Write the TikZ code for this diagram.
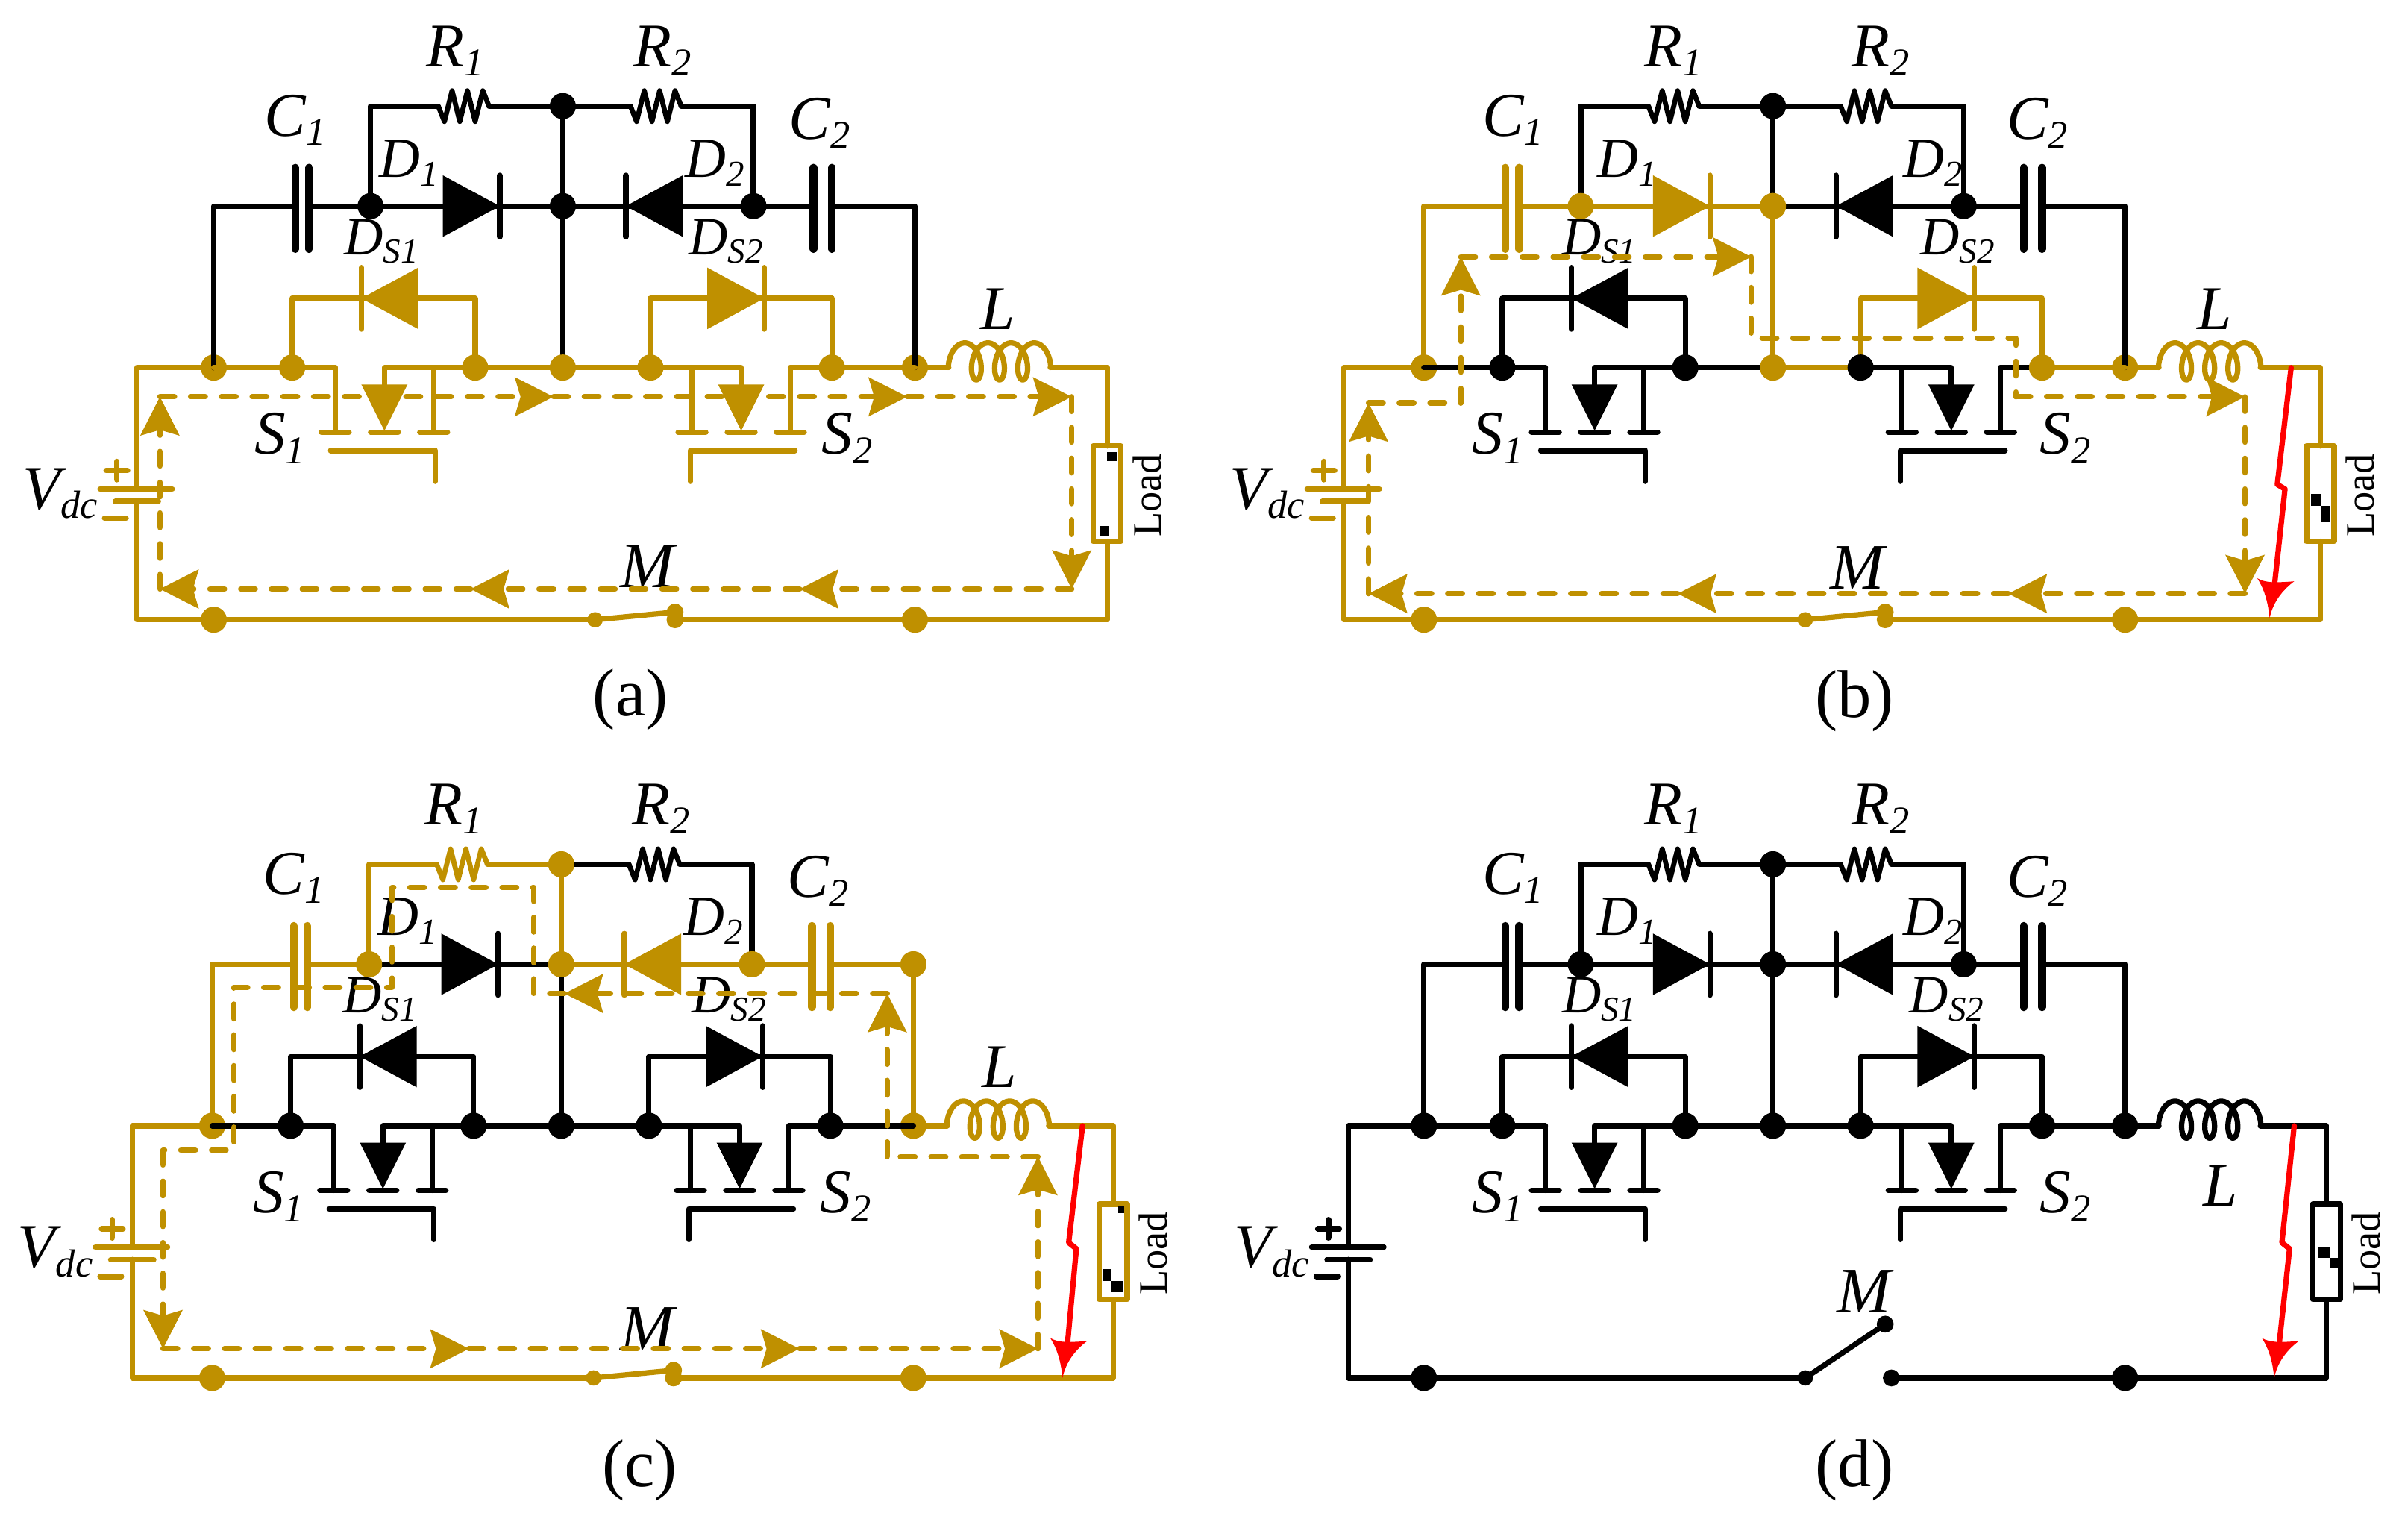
\documentclass[tikz,border=0pt]{standalone}
\usepackage{fontspec}
\setmainfont{Liberation Serif}
\usetikzlibrary{arrows.meta}
\definecolor{gilt}{RGB}{191,144,0}
\newcommand{\subs}[2][14.5]{\raisebox{-0.15em}{\fontsize{#1}{#1}\selectfont #2}}

\tikzset{
    wire/.style={line width=0.07cm, line cap=round, line join=round},
    plate/.style={line width=0.07cm, line cap=round},
    capplate/.style={line width=0.1cm, line cap=round},
    au/.style={color=gilt}, ink/.style={color=black},
    partOuter/.style=ink, partQa/.style=ink, partQm/.style=ink, partQb/.style=ink,
    partCa/.style=ink, partDa/.style=ink, partJm/.style=ink, partUp/.style=ink,
    lbl/.style={inner sep=0pt, font=\fontsize{23}{25}\selectfont\itshape},
    mlbl/.style={inner sep=0pt, font=\fontsize{24}{25}\selectfont\itshape},
    d_label/.style={inner sep=0pt, font=\fontsize{21}{22}\selectfont\itshape},
    dlbl/.style={inner sep=0pt, font=\fontsize{20}{22}\selectfont\itshape},
    cap_label/.style={inner sep=0pt, font=\fontsize{25}{27}\selectfont},
    load_label/.style={inner sep=0pt, rotate=90, font=\fontsize{15}{16}\selectfont},
    flowline/.style={au, line width=0.07cm, line cap=round, line join=round, dash pattern=on 0.19cm off 0.21cm},
    flow/.style={flowline, -{Stealth[length=0.5cm, width=0.5cm, inset=0.07cm]}},
    fault/.style={red, line width=0.07cm, line cap=round, line join=round},
    faulthead/.pic={
        \fill[red] (0,0) .. controls (-1,-10) and (-3,-18) .. (-8,-26)
            .. controls (-3,-23) and (3,-23) .. (16,-24)
            .. controls (8,-18) and (2,-10) .. (0,0) -- cycle;
    },
    diode/.pic={
        \fill (0,0) -- (-37,-20) -- (-37,20) -- cycle;
        \draw[plate] (0,-20) -- (0,20);
    },
    resistor/.pic={
        \draw[line width=0.065cm, line join=round] (0,0) -- (4,10) -- (9,-10) -- (14,10) -- (19,-10) -- (24,10) -- (29,-10) -- (33,0);
    },
    mosfet/.pic={
        \draw[wire] (-32,0) -- (-32,42);
        \draw[wire] (0,11) -- (0,0) -- (32,0);
        \draw[wire] (32,0) -- (32,42);
        \fill (-15,11) -- (15,11) -- (0,41) -- cycle;
        \draw[plate] (-41,42) -- (-23,42);
        \draw[plate] (-9,42) -- (9,42);
        \draw[plate] (23,42) -- (41,42);
        \draw[wire] (-35,54) -- (33,54) -- (33,74);
    }
}

% #1 left rail, #2 right rail, #3 label DS2, #4 blade end, #5 contact, #6 label shift
\newcommand{\cellbody}[6]{
    \coordinate (ja) at (139,239); \coordinate (jb) at (190,239);
    \coordinate (jc) at (309,239); \coordinate (jd) at (366,239);
    \coordinate (je) at (423,239); \coordinate (jf) at (541,239);
    \coordinate (jg) at (595,239);
    \coordinate (ma) at (139,134); \coordinate (mb) at (241,134);
    \coordinate (mc) at (366,134); \coordinate (md) at (490,134);
    \coordinate (me) at (595,134);
    \coordinate (ta) at (241,69); \coordinate (tb) at (366,69); \coordinate (tc) at (490,69);
    \coordinate (ba) at (139,403); \coordinate (bb) at (595,403);
    \coordinate (sa) at (387,403); \coordinate (sb) at (#5,403); \coordinate (sc) at (439,#4);
    % anel externo
    \draw[wire,partOuter] (ja) -- (#1,239) -- (#1,318);
    \draw[wire,partOuter] (#1,326) -- (#1,403) -- (sa);
    \draw[wire,partOuter] (sb) -- (#2,403) -- (#2,352);
    \draw[wire,partOuter] (#2,290) -- (#2,239) -- (683,239);
    \draw[wire,partOuter] (jg) -- (617,239);
    \draw[wire,partOuter] plot[domain=-109:1189, samples=160, smooth, variable=\t]
        ({627.4+2.4*rad(\t)+6.5*sin(\t)}, {235-12*cos(\t)});
    \draw[wire,partOuter] (#2-9,290) rectangle (#2+9,352);
    \draw[plate,partOuter] (#1-24,318) -- (#1+23,318);
    \draw[plate,partOuter] (#1-14,326) -- (#1+14,326);
    \draw[plate,partOuter] (#1-20,306) -- (#1-6,306);
    \draw[plate,partOuter] (#1-13,300) -- (#1-13,312);
    \draw[plate,partOuter] (#1-21,337) -- (#1-7,337);
    \draw[wire,partOuter] (sa) -- (sc);
    \foreach \j/\r in {ja/8.5, jg/8.5, ba/8.5, bb/8.5, sa/5, sb/5.5, sc/5.5}
        \fill[partOuter] (\j) circle (\r);
    % linha do meio
    \draw[wire,partCa] (ja) -- (ma) -- (192,134);
    \draw[wire,partCa] (201,134) -- (mb);
    \draw[capplate,partCa] (192,109) -- (192,162);
    \draw[capplate,partCa] (201,109) -- (201,162);
    \draw[wire,partDa] (mb) -- (mc);
    \pic[partDa] at (325,134) {diode};
    \draw[wire,partDa] (mc) -- (jd);
    \draw[wire,partUp] (mc) -- (md) -- (529,134);
    \pic[partUp,xscale=-1] at (407,134) {diode};
    \draw[wire,partUp] (541,134) -- (me) -- (jg);
    \draw[capplate,partUp] (529,109) -- (529,162);
    \draw[capplate,partUp] (541,109) -- (541,162);
    % resistores
    \draw[wire,partUp] (mb) -- (ta) -- (285,69);
    \pic[partUp] at (285,69) {resistor};
    \draw[wire,partUp] (318,69) -- (tb) -- (mc);
    \draw[wire] (tb) -- (410,69);
    \pic at (410,69) {resistor};
    \draw[wire] (443,69) -- (tc) -- (md);
    % linha inferior e chaves
    \draw[wire,partQa] (ja) -- (jb) -- (218,239);
    \pic[partQa] at (250,239) {mosfet};
    \draw[wire,partQa] (282,239) -- (jd);
    \draw[wire,partQa] (jb) -- (190,194) -- (309,194) -- (jc);
    \pic[partQa,xscale=-1] at (235,194) {diode};
    \draw[wire,partQm] (jd) -- (je);
    \draw[wire,partQb] (je) -- (451,239);
    \pic[partQb,xscale=-1] at (482,239) {mosfet};
    \draw[wire,partQb] (514,239) -- (jf);
    \draw[wire,partQm] (jf) -- (jg);
    \draw[wire,partQm] (je) -- (423,194) -- (541,194) -- (jf);
    \pic[partQm] at (497,194) {diode};
    % pontos
    \foreach \j in {jb, jc} \fill[partQa] (\j) circle (8.5);
    \foreach \j in {jd, jf} \fill[partQm] (\j) circle (8.5);
    \fill[partQb] (je) circle (8.5);
    \fill[partCa] (mb) circle (8.5);
    \fill[partJm] (mc) circle (8.5);
    \foreach \j in {md, tb} \fill[partUp] (\j) circle (8.5);
    % textos
    \node[lbl] (nR1) at (296+#6,33) {R\subs{1}};
    \node[lbl] (nR2) at (431+#6,33) {R\subs{2}};
    \node[lbl] (nC1) at (192+#6,78) {C\subs{1}};
    \node[lbl] (nC2) at (533+#6,80) {C\subs{2}};
    \node[d_label] (nD1) at (266+#6,106) {D\subs[13.5]{1}};
    \node[d_label] (nD2) at (465+#6,106) {D\subs[13.5]{2}};
    \node[dlbl] (nDa) at (248+#6,157) {D\subs[13]{S1}};
    \node[dlbl] (nDb) at (#3,157) {D\subs[13]{S2}};
    \node[lbl] (nSa) at (182+#6,285) {S\subs{1}};
    \node[lbl] (nSb) at (551+#6,285) {S\subs{2}};
    \node[lbl] (nV) at (#1-50,321) {V\subs{dc}};
    \node[load_label] (nLoad) at (#2+26,322) {Load};
}

\begin{document}
\begin{tikzpicture}[x=0.02cm, y=-0.02cm]
    \useasboundingbox (0,0) rectangle (1566,989.2);

    % (a)
    \begin{scope}[name prefix=a-, partOuter/.style=au, partQa/.style=au, partQm/.style=au, partQb/.style=au]
        \cellbody{89}{720}{472}{398}{439}{0}
        \node[mlbl] (nM) at (421,368) {M};
        \node[lbl] (nL) at (649,201) {L};
        \node[cap_label] (nCap) at (410,455) {(a)};
        \fill (720,294) rectangle (726,300);
        \fill (715,342) rectangle (721,349);
        \coordinate (f1) at (104,258); \coordinate (f2) at (360,258);
        \coordinate (f3) at (590,258); \coordinate (f4) at (697,258);
        \coordinate (f5) at (697,383); \coordinate (f6) at (520,383);
        \coordinate (f7) at (306,383); \coordinate (f8) at (104,383);
        \foreach \p/\q in {f1/f2, f2/f3, f3/f4, f4/f5, f5/f6, f6/f7, f7/f8, f8/f1}
            \draw[flow] (\p) -- (\q);
    \end{scope}

    % (b)
    \begin{scope}[shift={(787,0)}, name prefix=b-, partOuter/.style=au, partQm/.style=au, partCa/.style=au, partDa/.style=au, partJm/.style=au]
        \cellbody{87}{722}{486}{398}{439}{5}
        \node[mlbl] (nM) at (421,369) {M};
        \node[lbl] (nL) at (653,201) {L};
        \node[cap_label] (nCap) at (419,456) {(b)};
        \fill (716,321) rectangle (722,329);
        \fill (722,329) rectangle (728,339);
        \coordinate (f1) at (103,262); \coordinate (f2) at (163,262);
        \coordinate (f3) at (163,167); \coordinate (f4) at (352,167);
        \coordinate (f5) at (352,220); \coordinate (f6) at (524,220);
        \coordinate (f7) at (524,258); \coordinate (f8) at (673,258);
        \coordinate (f9) at (673,386); \coordinate (f10) at (519,386);
        \coordinate (f11) at (304,386); \coordinate (f12) at (103,386);
        \draw[flowline] (f1) -- (f2);
        \draw[flowline] (f4) -- (f5) -- (f6) -- (f7);
        \foreach \p/\q in {f2/f3, f3/f4, f7/f8, f8/f9, f9/f10, f10/f11, f11/f12, f12/f1}
            \draw[flow] (\p) -- (\q);
        \coordinate (r1) at (703,239); \coordinate (r2) at (694,315);
        \coordinate (r3) at (699,318); \coordinate (r4) at (692,382);
        \draw[fault] (r1) -- (r2) -- (r3) -- (r4);
        \pic at (689,402) {faulthead};
    \end{scope}

    % (c)
    \begin{scope}[shift={(-1,493)}, name prefix=c-, partOuter/.style=au, partCa/.style=au, partJm/.style=au, partUp/.style=au]
        \cellbody{87}{725}{475}{398}{439}{0}
        \fill[au] (me) circle (8.5);
        \node[mlbl] (nM) at (422,371) {M};
        \node[lbl] (nL) at (651,201) {L};
        \node[cap_label] (nCap) at (417,463) {(c)};
        \fill (728,291) rectangle (732,296);
        \fill (718,332) rectangle (724,340);
        \fill (724,340) rectangle (731,347);
        \coordinate (f1) at (107,255); \coordinate (f2) at (107,384);
        \coordinate (f3) at (306,384); \coordinate (f4) at (521,384);
        \coordinate (f5) at (676,384); \coordinate (f6) at (676,259);
        \coordinate (f7) at (578,259); \coordinate (f8) at (578,153);
        \coordinate (f9) at (368,153); \coordinate (f10) at (348,153);
        \coordinate (f11) at (348,84); \coordinate (f12) at (256,84);
        \coordinate (f13) at (256,149); \coordinate (f14) at (153,149);
        \coordinate (f15) at (153,255);
        \draw[flowline] (f6) -- (f7);
        \draw[flowline] (f9) -- (f10) -- (f11) -- (f12) -- (f13) -- (f14) -- (f15) -- (f1);
        \foreach \p/\q in {f1/f2, f2/f3, f3/f4, f4/f5, f5/f6, f7/f8, f8/f9}
            \draw[flow] (\p) -- (\q);
        \coordinate (r1) at (705,239); \coordinate (r2) at (696,315);
        \coordinate (r3) at (701,319); \coordinate (r4) at (695,383);
        \draw[fault] (r1) -- (r2) -- (r3) -- (r4);
        \pic at (692,403) {faulthead};
    \end{scope}

    % (d)
    \begin{scope}[shift={(787,493)}, name prefix=d-]
        \cellbody{90}{726}{479}{368}{443}{5}
        \node[mlbl] (nM) at (425,347) {M};
        \node[lbl] (nL) at (657,278) {L};
        \node[cap_label] (nCap) at (419,463) {(d)};
        \fill (721,318) rectangle (728,325);
        \fill (728,325) rectangle (735,331);
        \coordinate (r1) at (705,239); \coordinate (r2) at (697,315);
        \coordinate (r3) at (702,319); \coordinate (r4) at (695,383);
        \draw[fault] (r1) -- (r2) -- (r3) -- (r4);
        \pic at (692,403) {faulthead};
    \end{scope}
\end{tikzpicture}
\end{document}
